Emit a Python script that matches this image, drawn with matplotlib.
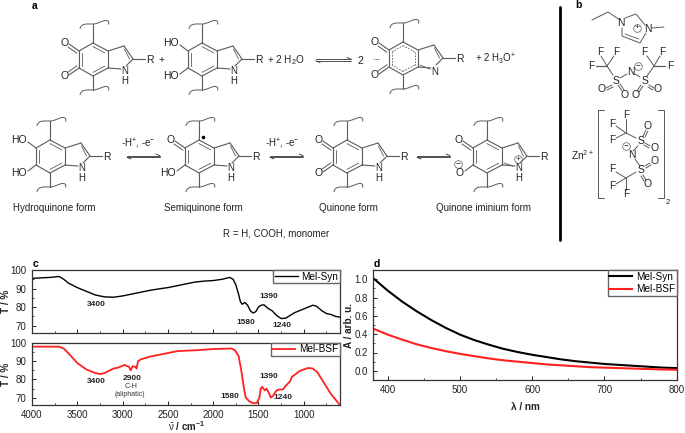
import numpy as np
import matplotlib
matplotlib.use("Agg")
import matplotlib.pyplot as plt
from matplotlib.path import Path
from matplotlib.patches import PathPatch
from matplotlib.ticker import MultipleLocator

plt.rcParams['font.family'] = ['Liberation Sans', 'DejaVu Sans']
plt.rcParams['mathtext.fontset'] = 'custom'
plt.rcParams['mathtext.rm'] = 'Liberation Sans'
plt.rcParams['mathtext.bf'] = 'Liberation Sans:bold'

# --- panel c data ---
syn_wn = [4000,3800,3700,3650,3600,3500,3400,3300,3200,3100,3000,2900,2800,2700,2600,2500,2400,2300,2200,2100,2000,1900,1820,1780,1750,1720,1700,1680,1650,1620,1590,1560,1530,1500,1470,1440,1400,1350,1300,1250,1200,1150,1100,1050,1000,950,900,860,800,750,700,650,600]
syn_t = [95.5,96,96.5,95,93,90.5,88.5,86.5,85.5,85.3,86,87,88,89,89.8,90.5,91.5,92.5,93.5,94,94.3,95,96,95,92,87,83,81.5,82.5,81,78,76.8,77.5,80,81,81.2,79.5,78,75.5,73.8,74,75.5,77,78,79,80,81,80.5,78,76.5,76,75,74.5]
bsf_wn = [4000,3700,3650,3600,3500,3400,3300,3250,3200,3100,3050,3000,2980,2950,2930,2911,2890,2860,2845,2830,2800,2700,2600,2500,2400,2300,2200,2000,1800,1760,1720,1690,1660,1640,1600,1560,1520,1490,1475,1460,1430,1410,1380,1365,1340,1300,1270,1230,1200,1150,1130,1100,1050,1000,950,900,850,800,750,700,650,610]
bsf_t = [98,98,97,94.5,89,85.5,83.5,83,83.5,86,86.5,87.5,88,87.3,87,85,87.2,87,86,90,91,92.5,93.5,94.5,95.5,95.8,96,96.7,97,96,93,85,75,70,68,67,67,70,75,76,74,75,72,70,71,74,74.5,74.5,76.5,79,81.5,82.5,84.5,85.5,86.3,86,84,80,76,72,69,66.5]

# --- panel d data ---
wl = [380,400,420,440,460,480,500,520,540,560,580,600,620,640,660,680,700,720,740,760,780,800]
syn_a = [1.01,.875,.755,.65,.555,.47,.395,.335,.285,.24,.205,.175,.15,.125,.105,.09,.075,.065,.055,.045,.035,.03]
bsf_a = [.46,.395,.34,.29,.25,.215,.185,.16,.135,.115,.10,.085,.07,.06,.05,.04,.035,.03,.025,.02,.015,.012]

W, H = 685, 433
fig = plt.figure(figsize=(W/100, H/100), dpi=100)

def axpx(x0, y0, x1, y1):
    return fig.add_axes([x0/W, 1-y1/H, (x1-x0)/W, (y1-y0)/H])

# =============== scheme overlay (pixel coordinates) ===============
s = fig.add_axes([0, 0, 1, 1], zorder=5)
s.set_xlim(0, W); s.set_ylim(H, 0); s.axis('off')
GR = '#5a5a5a'
TXT = '#222222'

def L(pts, lw=0.8, c=GR, **k):
    a = np.array(pts, float)
    s.plot(a[:,0], a[:,1], color=c, lw=lw, solid_capstyle='round', **k)

def T(x, y, t, fs=7.2, ha='center', va='center', **k):
    k.setdefault('color', TXT)
    s.text(x, y, t, fontsize=fs, ha=ha, va=va, **k)

def squiggle(x, y):
    v = np.array([(-13,5),(-12,-1),(-6,0),(0,0),(5,0),(9,-3.5),(13,-3.5),(15,-3.5),(16.5,-2.5),(15.5,0.5)], float) + (x, y)
    codes = [Path.MOVETO] + [Path.CURVE4]*9
    s.add_patch(PathPatch(Path(v, codes), fc='none', ec=GR, lw=0.7))

def mol(cx, cy, top='O', bottom='O', n='NH', dashed=False, radical=False):
    V = np.array([(0,-16),(15,-8),(15,9),(0,17),(-14,9),(-14,-8)], float) + (cx, cy)
    ls = (0, (2, 1.5)) if dashed else '-'
    for i in range(6):
        L([V[i], V[(i+1)%6]])
    c = np.array([cx, cy+0.5])
    for i, j in [(0,1),(2,3),(4,5)]:
        L([c + (V[i]-c)*0.78, c + (V[j]-c)*0.78], lw=0.6, ls=ls)
    if dashed:
        for i, j in [(1,2),(3,4),(5,0)]:
            L([c + (V[i]-c)*0.78, c + (V[j]-c)*0.78], lw=0.6, ls=ls)
    P1 = V[1] + (16,-5); P2 = V[1] + (25,8); N = V[1] + (16,20)
    L([V[1], P1]); L([P1, P2]); L([P2, N + (2,-5)]); L([N + (-3,-2), V[2]])
    L([P1 + (0.5,3), P2 + (-3.5,0)], lw=0.6)
    L([P2, P2 + (12,0)])
    T(P2[0] + 17, P2[1] + 1, 'R', 7.5)
    if n == 'NH':
        T(N[0] + 0.5, N[1] + 5, 'N\nH', 7, linespacing=0.9)
    elif n == 'N':
        T(N[0] + 0.5, N[1] + 2, 'N', 7)
        L([N + (-4,-1), V[2] + (2,-2)], lw=0.6)
    elif n == 'NH+':
        T(N[0] + 0.5, N[1] + 5, 'N\nH', 7, linespacing=0.9)
        L([N + (-5,-2), V[2] + (2,-2)], lw=0.6)
        s.plot(N[0]+0.5, N[1]-9, 'o', mfc='none', mec=GR, ms=5.5, mew=0.5)
        T(N[0]+0.5, N[1]-9, '+', 6)
    L([V[0], V[0] + (0,-19)]); L([V[3], V[3] + (0,14)])
    squiggle(V[0][0], V[0][1]-19)
    squiggle(V[3][0], V[3][1]+14)
    for key, v, sgn in ((top, V[5], -1), (bottom, V[4], 1)):
        if key == 'O':
            L([v, v + (-10, sgn*7)])
            L([v + (-2, sgn*-2.2), v + (-11, sgn*4)], lw=0.7)
            T(v[0] - 14, v[1] + sgn*8, 'O', 7.5)
        elif key == 'HO':
            L([v, v + (-8, sgn*6)])
            T(v[0] - 9, v[1] + sgn*8, 'HO', 7.5, ha='right')
        elif key == 'O-':
            L([v, v + (-8, sgn*6)])
            T(v[0] - 13, v[1] + sgn*8, 'O', 7.5)
            s.plot(v[0]-15, v[1]+sgn*-1, 'o', mfc='none', mec=GR, ms=5.5, mew=0.5)
            T(v[0]-15, v[1]+sgn*-1, '\u2212', 6)
    if radical:
        s.plot(V[0][0]+4, V[0][1]-3, 'o', color='k', ms=1.6)

def eq(x0, x1, y):
    K = '#333333'
    L([(x0, y+1.3), (x1, y+1.3)], lw=0.6, c=K)
    L([(x0, y+1.3), (x0+4, y+3)], lw=0.6, c=K)
    L([(x0, y-0.3), (x1, y-0.3)], lw=0.6, c=K)
    L([(x1-4, y-2), (x1, y-0.3)], lw=0.6, c=K)

T(35, 6, 'a', 7.5, fontweight='bold', color='k')
T(578, 5, 'b', 7.5, fontweight='bold', color='k')

mol(93, 59, 'O', 'O')
mol(202, 59, 'HO', 'HO')
mol(403, 58, 'O', 'O', n='N', dashed=True)
mol(50, 156, 'HO', 'HO')
mol(199, 156, 'O', 'HO', radical=True)
mol(347, 156, 'O', 'O')
mol(487, 156, 'O', 'O-', n='NH+')

T(162, 60.5, '+', 7.5)
T(286, 60.5, '+ 2 H$_2$O', 7.2)
eq(316, 351, 59.5)
T(360, 60.5, '2', 7.5)
T(376, 59.5, '\u00b7\u2212', 6, color=GR)
T(475, 59.5, '+ 2 H$_3$O$^{+}$', 7, ha='left')

eq(127, 160, 156)
T(138, 143.5, '-H$^{+}$, -e$^{-}$', 7)
eq(270, 303, 156)
T(282, 143.5, '-H$^{+}$, -e$^{-}$', 7)
eq(417, 450, 156)
T(54, 208, 'Hydroquinone form', 7)
T(203, 208, 'Semiquinone form', 7)
T(348, 208, 'Quinone form', 7)
T(484, 208, 'Quinone iminium form', 7)
T(276, 234, 'R = H, COOH, monomer', 7)

# divider
L([(560.5, 7), (560.5, 240)], lw=2, c='k')

# ionic liquid
L([(592, 20), (608, 12), (620, 20)], lw=0.7)
T(621, 23, 'N', 7.5)
L([(625, 18), (636, 14), (645, 25)], lw=0.7)
L([(622, 28), (622, 36), (640, 43), (646, 33)], lw=0.7)
L([(625, 34), (639, 39)], lw=0.6)
T(647.5, 29, 'N', 7.5)
L([(652, 28), (664, 27)], lw=0.7)
s.plot(637, 28, 'o', mfc='none', mec=GR, ms=5.5, mew=0.5)
T(637, 28, '+', 6)

# TFSI
T(600, 52, 'F', 7.2); T(616, 52, 'F', 7.2); T(591, 66, 'F', 7.2)
L([(596, 66), (607, 66)], lw=0.9); L([(601, 56), (607, 66)], lw=0.7); L([(614, 56), (607, 66)], lw=0.7)
L([(607, 66), (613, 75)], lw=0.7)
T(616, 81, 'S', 7.5)
L([(612, 85), (606, 88)], lw=0.7); L([(613, 87), (607, 90)], lw=0.7)
T(602, 89, 'O', 7.5); T(625, 95, 'O', 7.5)
L([(618, 85), (622, 91)], lw=0.7); L([(620, 84), (624, 90)], lw=0.7)
L([(620, 78), (627, 74)], lw=0.7)
T(631, 72, 'N', 7.5)
s.plot(638, 66, 'o', mfc='none', mec=GR, ms=5.5, mew=0.5); T(638, 66, '\u2212', 6)
L([(635, 74), (640, 77)], lw=0.7)
T(645, 81, 'S', 7.5)
L([(647, 76), (654, 66)], lw=0.7)
L([(654, 66), (665, 66)], lw=0.9); L([(654, 66), (647, 56)], lw=0.7); L([(654, 66), (660, 56)], lw=0.7)
T(644, 52, 'F', 7.2); T(662, 52, 'F', 7.2); T(670, 66, 'F', 7.2)
L([(641, 85), (637, 91)], lw=0.7); L([(643, 86), (639, 92)], lw=0.7)
T(636, 95, 'O', 7.5)
L([(649, 85), (654, 88)], lw=0.7); L([(648, 87), (653, 90)], lw=0.7)
T(658, 89, 'O', 7.5)

# Zn salt
T(582, 155, 'Zn$^{2+}$', 7.2)
L([(604, 110), (598, 110), (598, 198), (604, 198)], lw=0.7)
L([(658, 110), (664, 110), (664, 198), (658, 198)], lw=0.7)
T(668, 203, '2', 5.5)
T(626, 115, 'F', 7.2); T(612, 124, 'F', 7.2); T(612, 140, 'F', 7.2)
L([(626, 119), (626, 133)], lw=0.7); L([(616, 126), (626, 133)], lw=0.7); L([(616, 138), (626, 133)], lw=0.7)
L([(626, 133), (636, 138)], lw=0.7)
T(641, 141, 'S', 7.5)
T(648, 126, 'O', 7.5); T(655, 148, 'O', 7.5)
L([(643, 136), (646, 130)], lw=0.7); L([(645, 137), (648, 131)], lw=0.7)
L([(645, 143), (650, 146)], lw=0.7); L([(644, 145), (649, 148)], lw=0.7)
L([(638, 146), (633, 151)], lw=0.7)
T(632, 155, 'N', 7.5)
s.plot(626, 146, 'o', mfc='none', mec=GR, ms=5.5, mew=0.5); T(626, 146, '\u2212', 6)
L([(635, 159), (640, 166)], lw=0.7)
T(641, 170, 'S', 7.5)
T(655, 161, 'O', 7.5); T(648, 184, 'O', 7.5)
L([(645, 166), (650, 163)], lw=0.7); L([(646, 168), (651, 165)], lw=0.7)
L([(643, 175), (646, 180)], lw=0.7); L([(641, 176), (644, 181)], lw=0.7)
L([(636, 172), (626, 178)], lw=0.7)
T(612, 169, 'F', 7.2); T(612, 186, 'F', 7.2); T(626, 194, 'F', 7.2)
L([(616, 172), (626, 178)], lw=0.7); L([(616, 184), (626, 178)], lw=0.7); L([(626, 178), (626, 190)], lw=0.7)

# =============== panel c ===============
def style(ax):
    for sp in ax.spines.values():
        sp.set_color('#333333'); sp.set_linewidth(0.9)
    ax.tick_params(which='major', direction='in', length=3, width=0.7, labelsize=7,
                   colors='#222222')
    ax.tick_params(axis='x', which='major', pad=3.5)
    ax.tick_params(axis='y', which='major', pad=4)
    ax.tick_params(which='minor', direction='in', length=1.6, width=0.6, colors='#222222')

LEG = dict(fancybox=False, framealpha=1, edgecolor='#666666', fontsize=7.2, borderaxespad=0,
           handlelength=2.3, handletextpad=0.4, borderpad=0.15, labelspacing=0.25)

for box, wn, tr, col, lw, lab in (((32, 270, 340, 333), syn_wn, syn_t, 'k', 1.0, 'Mel-Syn'),
                                  ((32, 343, 340, 405), bsf_wn, bsf_t, '#ff2020', 1.3, 'Mel-BSF')):
    ax = axpx(*box)
    ax.plot(wn, tr, color=col, lw=lw, label=lab)
    ax.set_xlim(4000, 600); ax.set_ylim(66, 100)
    ax.xaxis.set_major_locator(MultipleLocator(500))
    ax.xaxis.set_minor_locator(MultipleLocator(250))
    ax.yaxis.set_major_locator(MultipleLocator(10))
    ax.yaxis.set_minor_locator(MultipleLocator(5))
    style(ax)
    ax.set_ylabel('T / %', fontsize=7.2, fontweight='bold', color='#222222')
    ax.yaxis.set_label_coords((11-32)/308, 0.5)
    ax.legend(loc='upper right', **LEG)
    if lab == 'Mel-Syn':
        ax.tick_params(labelbottom=False)
    else:
        ax.set_xlabel(r'$\bar{\mathrm{\nu}}$ / cm$^{\mathbf{-1}}$', fontsize=7, fontweight='bold', color='#222222')
        ax.xaxis.set_label_coords((186-32)/308, (405-419.5)/62)

# band labels, placed by pixel
for x_, y_, t_ in ((96, 304, '3400'), (246, 322, '1580'), (269, 296.7, '1390'), (282, 325.7, '1240'),
                   (96, 381.7, '3400'), (131.7, 378, '2900'), (230, 397, '1580'), (269, 377, '1390'), (283, 397.7, '1240')):
    T(x_, y_, t_, 6, fontweight='bold')
T(131, 387, 'C-H', 5.2, color='#333333')
T(130, 395, '(aliphatic)', 5, color='#333333')
T(36, 264, 'c', 7.5, fontweight='bold', color='k')

# =============== panel d ===============
ad = axpx(373.3, 270, 676.7, 380)
ad.plot(wl, syn_a, color='k', lw=1.5, label='Mel-Syn')
ad.plot(wl, bsf_a, color='#ff2020', lw=1.5, label='Mel-BSF')
ad.set_xlim(380, 800); ad.set_ylim(-0.1, 1.1)
ad.xaxis.set_major_locator(MultipleLocator(100))
ad.xaxis.set_minor_locator(MultipleLocator(50))
ad.yaxis.set_major_locator(MultipleLocator(0.2))
ad.yaxis.set_minor_locator(MultipleLocator(0.1))
style(ad)
ad.set_xlabel('\u03bb / nm', fontsize=7.2, fontweight='bold', labelpad=5, color='#222222')
ad.set_ylabel('A / arb. u.', fontsize=7.2, fontweight='bold', color='#222222')
ad.yaxis.set_label_coords((354-373.3)/303.4, 0.5)
ad.legend(loc='upper right', **LEG)
T(377, 264, 'd', 7.5, fontweight='bold', color='k')

fig.savefig('out.png', dpi=100)
